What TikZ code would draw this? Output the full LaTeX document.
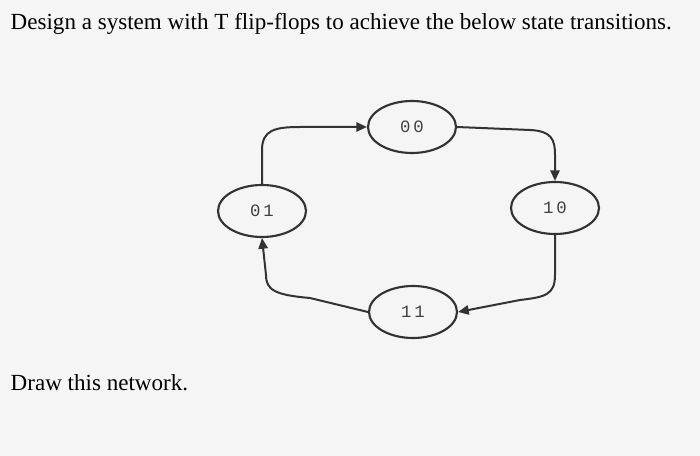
\documentclass[tikz,border=0pt]{standalone}
\usepackage{fontspec}
\setmainfont{Liberation Serif}
\setmonofont{Liberation Mono}
\usetikzlibrary{shapes.geometric,arrows.meta}
\begin{document}
\begin{tikzpicture}[x=0.75pt,y=-0.75pt,
  st/.style={draw=black!80,line width=1.6pt,ellipse,minimum width=88pt*0.75,minimum height=52pt*0.75,inner sep=0pt,font=\ttfamily\fontsize{13}{13}\selectfont,text=black!75},
  tr/.style={draw=black!80,line width=1.5pt,-{Triangle[length=8pt,width=7pt]}}]
\fill[black!4] (0,0) rectangle (700,456);
\useasboundingbox (0,0) rectangle (700,456);
\node[anchor=west,font=\fontsize{17.3}{18}\selectfont] (title) at (6,24) {Design a system with T flip-flops to achieve the below state transitions.};
\node[anchor=west,font=\fontsize{17.3}{18}\selectfont] (draw) at (6,383) {Draw this network.};
\node[st] (s00) at (412,127) {0\,0};
\node[st] (s10) at (555,208) {1\,0};
\node[st] (s01) at (262,211) {0\,1};
\node[st] (s11) at (413,312) {1\,1};
\draw[tr] (s01.north) -- (262,150) .. controls (262,130) and (275,127) .. (300,127) -- (s00.west);
\draw[tr] (s00.east) -- (530,130) .. controls (552,131) and (555,140) .. (555,155) -- (s10.north);
\draw[tr] (s10.south) -- (555,275) .. controls (555,295) and (545,297) .. (520,300) -- (s11.east);
\draw[tr] (s11.west) -- (310,298) .. controls (275,295) and (266,290) .. (266,275) -- (s01.south);
\end{tikzpicture}
\end{document}
